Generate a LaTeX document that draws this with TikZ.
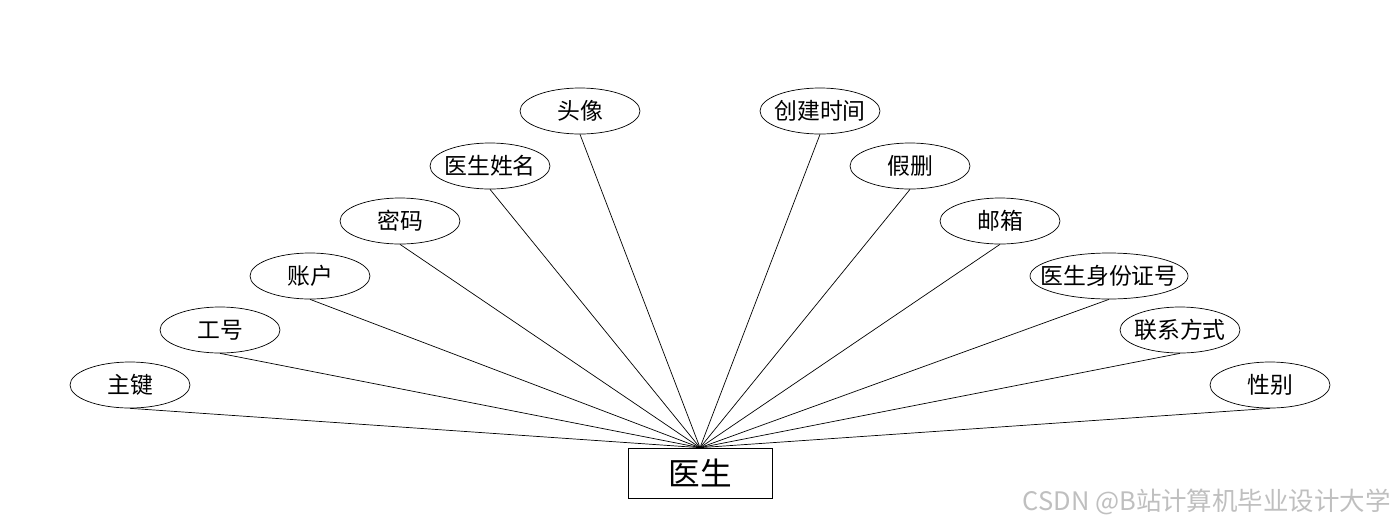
\documentclass[tikz,border=0pt]{standalone}
\usepackage{fontspec}
\setmainfont{Noto Sans CJK SC}
\usetikzlibrary{shapes.geometric}

\begin{document}
\begin{tikzpicture}[
  x=0.02cm, y=-0.02cm,
  attr/.style={draw, ellipse, inner ysep=0pt, inner xsep=-0.12cm, minimum width=2.4cm, minimum height=0.92cm, font=\fontsize{13}{15}\selectfont},
  entity/.style={draw, rectangle, minimum width=2.88cm, minimum height=1cm, font=\fontsize{18}{20}\selectfont},
  link/.style={thin}
]
\useasboundingbox (0,0) rectangle (1400,528);
\node[entity] (doctor) at (700,473) {医生};
% attributes, left side
\node[attr] (pk) at (130,385) {主键};
\node[attr] (jobno) at (220,330) {工号};
\node[attr] (account) at (310,276) {账户};
\node[attr] (pwd) at (400,221) {密码};
\node[attr] (dname) at (490,166) {医生姓名};
\node[attr] (avatar) at (580,111) {头像};
% attributes, right side
\node[attr] (ctime) at (820,111) {创建时间};
\node[attr] (deleted) at (910,166) {假删};
\node[attr] (email) at (1000,221) {邮箱};
\node[attr, minimum width=3.16cm, inner xsep=-0.5cm] (idcard) at (1109,276) {医生身份证号};
\node[attr] (contact) at (1180,330) {联系方式};
\node[attr] (gender) at (1270,385) {性别};
\foreach \a in {pk,jobno,account,pwd,dname,avatar,ctime,deleted,email,idcard,contact,gender}
  \draw[link] (\a.south) -- (doctor.north);
\node[text=black!25, anchor=east, font=\fontsize{14.5}{16}\selectfont] (mark) at (1397,502) {CSDN @B站计算机毕业设计大学};
\end{tikzpicture}
\end{document}
